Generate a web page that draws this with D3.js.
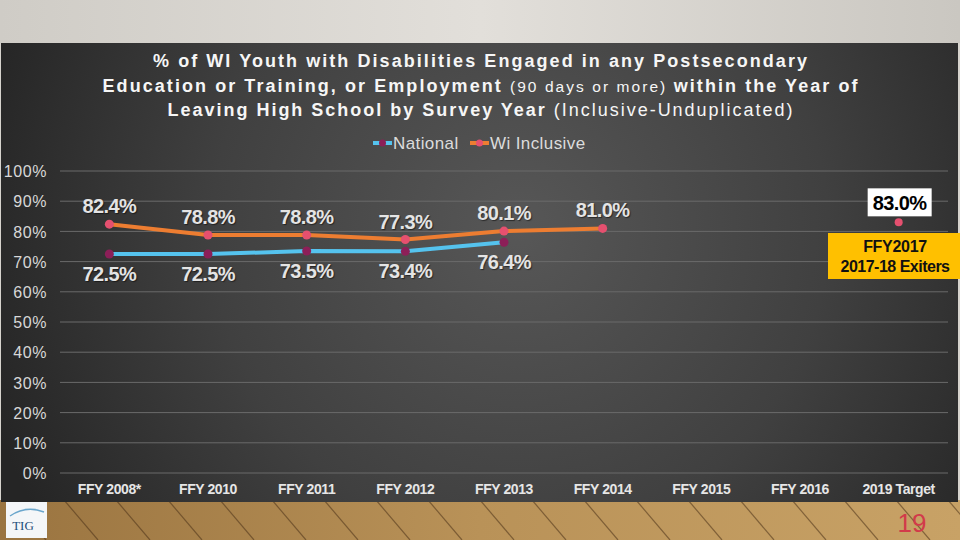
<!DOCTYPE html>
<html>
<head>
<meta charset="utf-8">
<script src="https://cdn.jsdelivr.net/npm/d3@7"></script>
<style>
  html, body { margin: 0; padding: 0; background: #d6d3cd; }
  svg { display: block; font-family: "Liberation Sans", Arial, sans-serif; }
</style>
</head>
<body>
<div id="chart"></div>
<script>
// data
const categories = ["FFY 2008*", "FFY 2010", "FFY 2011", "FFY 2012", "FFY 2013",
  "FFY 2014", "FFY 2015", "FFY 2016", "2019 Target"];
const nationalValues = [0.725, 0.725, 0.735, 0.734, 0.764, null, null, null, null];
const wiValues = [0.824, 0.788, 0.788, 0.773, 0.801, 0.810, null, null, null];
const targetValue = { category: "2019 Target", value: 0.830 };
const yTicks = [0, 0.1, 0.2, 0.3, 0.4, 0.5, 0.6, 0.7, 0.8, 0.9, 1.0];
const titleLines = [
  [{ t: "% of WI Youth with Disabilities Engaged in any Postsecondary", b: true }],
  [{ t: "Education or Training, or Employment ", b: true }, { t: "(90 days or more) ", b: false, s: 15.5 }, { t: "within the Year of", b: true }],
  [{ t: "Leaving High School by Survey Year ", b: true }, { t: "(Inclusive-Unduplicated)", b: false }]
];
const titleWidths = [654, 755, 625];
const seriesNames = ["National", "Wi Inclusive"];

const W = 960, H = 540;
const colors = {
  national: "#55c3ee", nationalDot: "#8c1f58",
  wi: "#ed7d31", wiDot: "#e5506f"
};

const svg = d3.select("#chart").append("svg")
  .attr("width", W).attr("height", H);

const defs = svg.append("defs");
const rg = defs.append("radialGradient").attr("id", "panelBg")
  .attr("gradientUnits", "userSpaceOnUse")
  .attr("cx", 520).attr("cy", 230).attr("r", 560);
rg.append("stop").attr("offset", "0%").attr("stop-color", "#575757");
rg.append("stop").attr("offset", "55%").attr("stop-color", "#404040");
rg.append("stop").attr("offset", "100%").attr("stop-color", "#252525");

const wg = defs.append("linearGradient").attr("id", "wood")
  .attr("x1", 0).attr("y1", 0).attr("x2", 1).attr("y2", 0);
wg.append("stop").attr("offset", "0%").attr("stop-color", "#9a7440");
wg.append("stop").attr("offset", "50%").attr("stop-color", "#b99258");
wg.append("stop").attr("offset", "100%").attr("stop-color", "#c8a266");

const tg = defs.append("linearGradient").attr("id", "topBg")
  .attr("x1", 0).attr("y1", 0).attr("x2", 1).attr("y2", 0);
tg.append("stop").attr("offset", "0%").attr("stop-color", "#cfccc6");
tg.append("stop").attr("offset", "50%").attr("stop-color", "#e2dfda");
tg.append("stop").attr("offset", "100%").attr("stop-color", "#cac7c1");

// slide background
svg.append("rect").attr("width", W).attr("height", 43).attr("fill", "url(#topBg)");
svg.append("rect").attr("y", 500).attr("width", W).attr("height", 40).attr("fill", "url(#wood)");
const planks = svg.append("g").attr("stroke", "#4a3218").attr("stroke-opacity", 0.55);
d3.range(-40, 1000, 52).forEach(x0 => {
  planks.append("line").attr("x1", x0).attr("y1", 500).attr("x2", x0 + 34).attr("y2", 540)
    .attr("stroke-width", 1.2);
});
svg.append("rect").attr("x", 1).attr("y", 43).attr("width", 957).attr("height", 459)
  .attr("fill", "url(#panelBg)");

// scales
const x = d3.scaleBand().domain(categories).range([60, 948]);
const y = d3.scaleLinear().domain([0, 1]).range([473, 171]);
const cx = c => x(c) + x.bandwidth() / 2;

// gridlines
svg.append("g").selectAll("line").data(yTicks).join("line")
  .attr("x1", 60).attr("x2", 948)
  .attr("y1", d => y(d)).attr("y2", d => y(d))
  .attr("stroke", "#6a6a6a").attr("stroke-width", 1);

// y axis labels
const yAxis = d3.axisLeft(y).tickValues(yTicks).tickFormat(d3.format(".0%")).tickSize(0).tickPadding(0);
const yg = svg.append("g").attr("transform", "translate(47,0)").call(yAxis);
yg.select(".domain").remove();
yg.selectAll("text").attr("fill", "#d8d8d8").attr("font-size", 16)
  .attr("font-family", "'Liberation Sans', Arial, sans-serif")
  .attr("letter-spacing", 0.6).attr("dy", "0.35em");

// x axis labels
const xAxis = d3.axisBottom(x).tickSize(0).tickPadding(0);
const xg = svg.append("g").attr("transform", "translate(0,484)").call(xAxis);
xg.select(".domain").remove();
xg.selectAll("text").attr("fill", "#e6e6e6").attr("font-size", 14).attr("font-weight", "bold")
  .attr("font-family", "'Liberation Sans', Arial, sans-serif")
  .attr("letter-spacing", -0.4).attr("dy", "0.7em");

// title
const title = svg.append("g").attr("fill", "#f6f6f6");
titleLines.forEach((parts, i) => {
  const t = title.append("text").attr("x", 480).attr("y", 67 + i * 24.5)
    .attr("text-anchor", "middle").attr("font-size", 18);
  parts.forEach(p => {
    t.append("tspan").text(p.t).attr("font-weight", p.b ? "bold" : "normal")
      .attr("font-size", p.s || 18);
  });
  t.attr("textLength", titleWidths[i]).attr("lengthAdjust", "spacing");
});

// legend
const legend = svg.append("g").attr("font-size", 17).attr("fill", "#dcdcdc");
const legendItems = [
  { name: seriesNames[0], x: 373, line: colors.national, dot: colors.nationalDot },
  { name: seriesNames[1], x: 470, line: colors.wi, dot: colors.wiDot }
];
legendItems.forEach(d => {
  legend.append("line").attr("x1", d.x).attr("x2", d.x + 19).attr("y1", 143).attr("y2", 143)
    .attr("stroke", d.line).attr("stroke-width", 4);
  legend.append("circle").attr("cx", d.x + 9.5).attr("cy", 143).attr("r", 3.5).attr("fill", d.dot);
  legend.append("text").attr("x", d.x + 20).attr("y", 149).text(d.name).attr("letter-spacing", 0.4);
});

// lines
const line = d3.line().defined(d => d.v != null).x(d => cx(d.c)).y(d => y(d.v));
const nat = categories.map((c, i) => ({ c, v: nationalValues[i] }));
const wi = categories.map((c, i) => ({ c, v: wiValues[i] }));

svg.append("path").datum(nat).attr("d", line).attr("fill", "none")
  .attr("stroke", colors.national).attr("stroke-width", 4).attr("stroke-linejoin", "round");
svg.append("path").datum(wi).attr("d", line).attr("fill", "none")
  .attr("stroke", colors.wi).attr("stroke-width", 4).attr("stroke-linejoin", "round");

svg.append("g").selectAll("circle").data(nat.filter(d => d.v != null)).join("circle")
  .attr("cx", d => cx(d.c)).attr("cy", d => y(d.v)).attr("r", 4.5).attr("fill", colors.nationalDot);
svg.append("g").selectAll("circle").data(wi.filter(d => d.v != null)).join("circle")
  .attr("cx", d => cx(d.c)).attr("cy", d => y(d.v)).attr("r", 4.5).attr("fill", colors.wiDot);

// data labels
const fmt = d3.format(".1%");
const labelStyle = sel => sel.attr("text-anchor", "middle").attr("font-size", 20)
  .attr("font-weight", "bold").attr("fill", "#e4e4e4").attr("letter-spacing", -0.6)
  .style("text-shadow", "1px 1px 1px rgba(0,0,0,0.5)");
svg.append("g").selectAll("text").data(wi.filter(d => d.v != null)).join("text")
  .attr("x", d => cx(d.c)).attr("y", d => y(d.v) - 11).text(d => fmt(d.v)).call(labelStyle);
svg.append("g").selectAll("text").data(nat.filter(d => d.v != null)).join("text")
  .attr("x", d => cx(d.c)).attr("y", d => y(d.v) + 27).text(d => fmt(d.v)).call(labelStyle);

// target point
const tx = cx(targetValue.category), ty = y(targetValue.value);
svg.append("circle").attr("cx", tx).attr("cy", ty).attr("r", 4).attr("fill", colors.wiDot);
svg.append("rect").attr("x", tx - 31).attr("y", ty - 34).attr("width", 64).attr("height", 28).attr("fill", "#ffffff");
svg.append("text").attr("x", tx + 1).attr("y", ty - 12).text(fmt(targetValue.value))
  .attr("text-anchor", "middle").attr("font-size", 20).attr("font-weight", "bold")
  .attr("fill", "#000").attr("letter-spacing", -0.6);

// FFY2017 callout
const callout = svg.append("g").attr("font-size", 16).attr("font-weight", "bold")
  .attr("fill", "#111").attr("text-anchor", "middle");
callout.append("rect").attr("x", 828).attr("y", 233).attr("width", 132).attr("height", 46).attr("fill", "#ffc000");
callout.append("text").attr("x", 895).attr("y", 252).text("FFY2017").attr("letter-spacing", -0.3);
callout.append("text").attr("x", 895).attr("y", 272).text("2017-18 Exiters").attr("letter-spacing", -0.5);

// logo + page number
svg.append("rect").attr("x", 6).attr("y", 502).attr("width", 41).attr("height", 36).attr("fill", "#f4f6f8");
svg.append("path").attr("d", "M10,516 Q26,505 44,512").attr("fill", "none").attr("stroke", "#6aa6cc").attr("stroke-width", 1.5);
svg.append("text").attr("x", 23).attr("y", 530).text("TIG").attr("text-anchor", "middle")
  .attr("font-family", "'Liberation Serif', serif").attr("font-size", 13).attr("fill", "#1f4e79");
svg.append("text").attr("x", 912).attr("y", 532).text("19").attr("text-anchor", "middle")
  .attr("font-size", 26).attr("fill", "#d23a4a");
</script>
</body>
</html>
